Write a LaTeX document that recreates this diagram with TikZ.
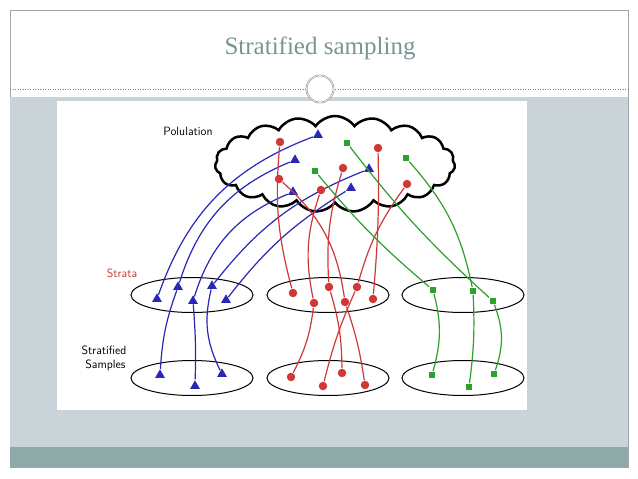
\documentclass[tikz,border=0pt]{standalone}
\usepackage{fontspec}
\setmainfont{Liberation Serif}
\usetikzlibrary{shapes.symbols, shapes.geometric}
\definecolor{slidegray}{HTML}{C9D3D8}
\definecolor{slidebar}{HTML}{8FA8A8}
\definecolor{titlegray}{HTML}{7A9494}
\definecolor{sblue}{HTML}{2828B4}
\definecolor{sred}{HTML}{D03838}
\definecolor{sgreen}{HTML}{2EA02E}
\tikzset{
  bpt/.style={fill=sblue, regular polygon, regular polygon sides=3, inner sep=2pt},
  rpt/.style={fill=sred, circle, inner sep=3pt},
  gpt/.style={fill=sgreen, rectangle, inner sep=3.2pt},
  stratum/.style={draw, ellipse, line width=1pt, minimum width=122pt, minimum height=35pt},
  lbl/.style={font=\sffamily\large, align=left}
}
\begin{document}
\begin{tikzpicture}[x=1pt, y=-1pt, line width=1.2pt]
  \useasboundingbox (0,0) rectangle (638,479);
  % slide
  \draw[gray!70, line width=0.6pt] (10,10) rectangle (628,467);
  \fill[slidegray] (10,97) rectangle (628,447);
  \fill[slidebar] (10,447) rectangle (628,467);
  \draw[gray, dotted, line width=0.5pt] (10,89) -- (628,89);
  \fill[white] (57,101) rectangle (527,410);
  \node[circle, draw=gray, double, fill=white, minimum size=27pt, line width=0.5pt] (ring) at (320,89) {};
  \node[text=titlegray, font=\fontsize{25}{30}\selectfont] (title) at (320,48) {Stratified sampling};

  % population and strata
  \node[cloud, draw, line width=2.5pt, cloud puffs=19, cloud puff arc=110,
        minimum width=240pt, minimum height=96pt] (pop) at (335,164) {};
  \foreach \n/\x in {a/192, b/328, c/463} {
    \node[stratum] (st\n) at (\x,295) {};
    \node[stratum] (sa\n) at (\x,378) {};
  }
  \node[lbl] (poplbl) at (188,131) {Polulation};
  \node[lbl, text=sred] (stlbl) at (122,273) {Strata};
  \node[lbl, inner sep=0pt] (salbl) at (104,358) {Stratified\\\ Samples};

  % blue
  \node[bpt] (B1) at (318,135) {};
  \node[bpt] (B2) at (295,160) {};
  \node[bpt] (B3) at (293,192) {};
  \node[bpt] (B4) at (369,169) {};
  \node[bpt] (B5) at (351,188) {};
  \node[bpt] (bs1) at (157,299) {};
  \node[bpt] (bs2) at (178,287) {};
  \node[bpt] (bs3) at (193,301) {};
  \node[bpt] (bs4) at (212,286) {};
  \node[bpt] (bs5) at (226,300) {};
  \node[bpt] (bp1) at (160,375) {};
  \node[bpt] (bp2) at (195,386) {};
  \node[bpt] (bp3) at (222,374) {};
  \path[draw=sblue] (B1) edge[bend right=25] (bs1)
    (B2) edge[bend right=25] (bs2)
    (B3) edge[bend right=25] (bs3)
    (B4) edge[bend right=15] (bs4)
    (B5) edge[bend right=10] (bs5)
    (bs2) edge[bend right=8] (bp1)
    (bs3) edge[bend left=3] (bp2)
    (bs4) edge[bend right=20] (bp3);

  % red
  \node[rpt] (R1) at (280,142) {};
  \node[rpt] (R2) at (378,148) {};
  \node[rpt] (R3) at (343,168) {};
  \node[rpt] (R4) at (279,179) {};
  \node[rpt] (R5) at (321,190) {};
  \node[rpt] (R6) at (407,184) {};
  \node[rpt] (rs1) at (293,293) {};
  \node[rpt] (rs2) at (314,303) {};
  \node[rpt] (rs3) at (329,287) {};
  \node[rpt] (rs4) at (345,302) {};
  \node[rpt] (rs5) at (357,287) {};
  \node[rpt] (rs6) at (373,299) {};
  \node[rpt] (rp1) at (291,377) {};
  \node[rpt] (rp2) at (323,386) {};
  \node[rpt] (rp3) at (342,373) {};
  \node[rpt] (rp4) at (365,385) {};
  \path[draw=sred] (R1) edge[bend right=10] (rs1)
    (R5) edge[bend right=15] (rs2)
    (R3) edge[bend right=10] (rs3)
    (R4) edge[bend left=20] (rs4)
    (R6) edge[bend right=10] (rs5)
    (R2) edge[bend left=3] (rs6)
    (rs2) edge[bend left=10] (rp1)
    (rs5) edge[bend right=5] (rp2)
    (rs3) edge[bend left=8] (rp3)
    (rs4) edge[bend left=5] (rp4);

  % green
  \node[gpt] (G1) at (347,143) {};
  \node[gpt] (G2) at (406,158) {};
  \node[gpt] (G3) at (315,171) {};
  \node[gpt] (gs1) at (433,290) {};
  \node[gpt] (gs2) at (473,291) {};
  \node[gpt] (gs3) at (493,301) {};
  \node[gpt] (gp1) at (432,375) {};
  \node[gpt] (gp2) at (469,387) {};
  \node[gpt] (gp3) at (494,374) {};
  \path[draw=sgreen] (G3) edge[bend right=5] (gs1)
    (G1) edge[bend right=5] (gs3)
    (G2) edge[bend left=15] (gs2)
    (gs1) edge[bend left=15] (gp1)
    (gs2) edge[bend left=5] (gp2)
    (gs3) edge[bend left=20] (gp3);
\end{tikzpicture}
\end{document}
